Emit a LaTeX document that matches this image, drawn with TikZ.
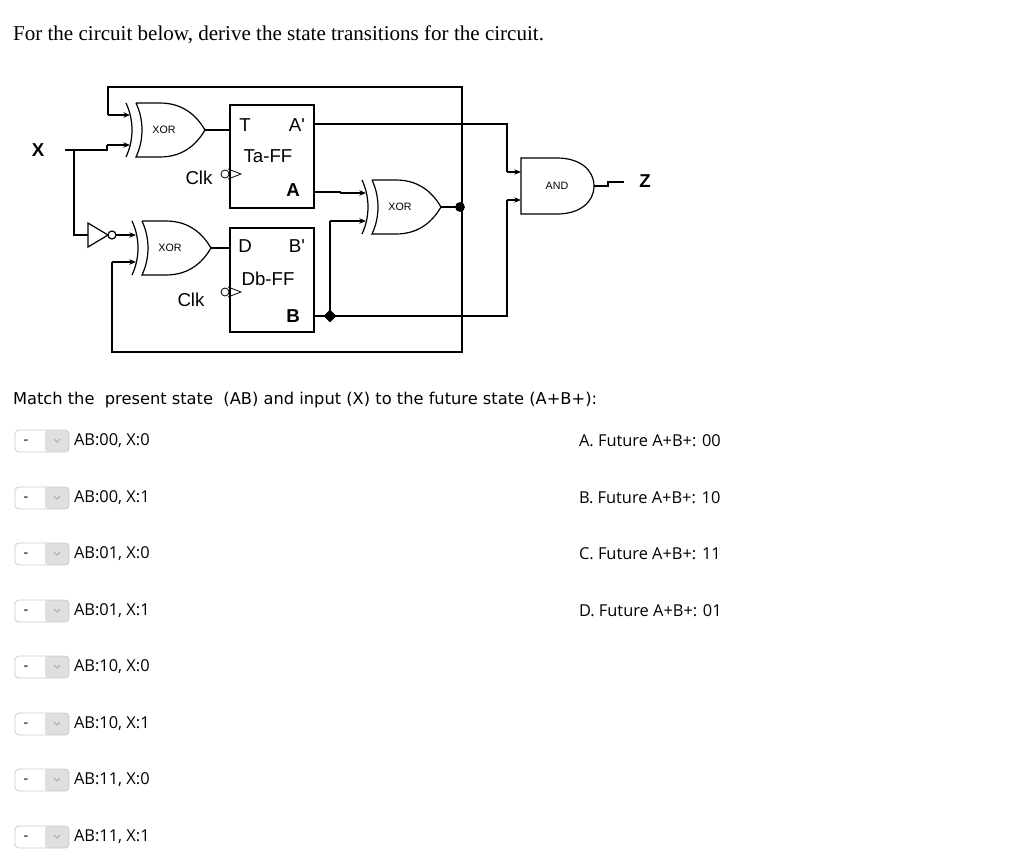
\documentclass[tikz,border=0pt]{standalone}
\usepackage{fontspec}
\setmainfont{Liberation Serif}
\newfontfamily\ar{Liberation Sans}
\newfontfamily\dv{DejaVu Sans}
\newfontfamily\ui{Open Sans}
\usetikzlibrary{arrows.meta,shapes.geometric}
\begin{document}
\begin{tikzpicture}[x=0.75pt,y=-0.75pt,line width=0.9pt,
  inp/.style={-{Stealth[length=5pt,width=4pt]}},
  gl/.style={font=\ar\fontsize{8}{9}\selectfont},
  lab/.style={font=\ar\fontsize{14}{16}\selectfont},
  opt/.style={font=\ui\fontsize{12.3}{14}\selectfont,anchor=west},
  dot/.style={circle,fill,inner sep=2.6pt}]
\useasboundingbox (0,0) rectangle (1024,858);
\fill[white] (0,0) rectangle (1024,858);
\node[anchor=west,font=\fontsize{15.8}{18}\selectfont] (title) at (8,35) {For the circuit below, derive the state transitions for the circuit.};
\newcommand{\xorg}[3]{% name,x,y
 \begin{scope}[shift={(#2,#3)}]
 \draw (6,-27) -- (30,-27) .. controls (55,-27) and (68,-12) .. (75,0) .. controls (68,12) and (55,27) .. (30,27) -- (6,27) .. controls (14,10) and (14,-10) .. (6,-27);
 \draw (-4,-27) .. controls (4,-10) and (4,10) .. (-4,27);
 \node[gl] (#1) at (34,0) {XOR};
 \end{scope}}
\xorg{x1}{130}{130}
\xorg{x2}{136}{248}
\xorg{x3}{366}{207}
\draw (521,158) -- (557,158) .. controls (580,158) and (594,170) .. (594,186) .. controls (594,202) and (580,214) .. (557,214) -- (521,214) -- cycle;
\node[gl] (and) at (557,186) {AND};
\draw (230,105) rectangle (314,208);
\draw (230,228) rectangle (314,332);
\node[lab] (T) at (245,125) {T};
\node[lab] (Ap) at (297,125) {A'};
\node[lab] (TF) at (268,156) {Ta-FF};
\node[lab,font=\ar\bfseries\fontsize{14}{16}\selectfont] (A) at (293,190) {A};
\node[lab] (D) at (245,246) {D};
\node[lab] (Bp) at (297,246) {B'};
\node[lab] (DF) at (268,279) {Db-FF};
\node[lab,font=\ar\bfseries\fontsize{14}{16}\selectfont] (B) at (293,316) {B};
\node[lab] (c1) at (199,178) {Clk};
\node[lab] (c2) at (191,300) {Clk};
\draw[line width=0.6pt] (228,169) -- (241,174) -- (228,179);
\draw[line width=0.6pt] (225,174) circle (4);
\draw[line width=0.6pt] (228,287) -- (241,292) -- (228,297);
\draw[line width=0.6pt] (225,292) circle (4);
\node[lab,font=\ar\bfseries\fontsize{14}{16}\selectfont] (X) at (38,150) {X};
\node[lab,font=\ar\bfseries\fontsize{14}{16}\selectfont] (Z) at (645,181) {Z};
\draw (88,223) -- (108,235) -- (88,247) -- cycle;
\draw (112,235) circle (4);
\coordinate (j1) at (74,150);
\draw (65,150) -- (j1) -- (107,150) -- (107,145);
\draw[inp] (107,145) -- (130,145);
\draw (j1) -- (74,235) -- (88,235);
\draw[inp] (116,235) -- (136,235);
\draw (108,115) -- (108,87) -- (462,87) -- (462,352) -- (112,352) -- (112,262);
\draw[inp] (108,115) -- (130,115);
\draw[inp] (112,262) -- (136,262);
\draw (205,130) -- (230,130);
\draw (211,248) -- (230,248);
\draw (314,192) -- (340,192) -- (340,193);
\draw[inp] (340,193) -- (366,193);
\coordinate (dB) at (330,316);
\draw (314,316) -- (507,316) -- (507,200);
\draw[inp] (507,200) -- (521,200);
\draw (dB) -- (330,221);
\draw[inp] (330,221) -- (366,221);
\node[diamond,fill,inner sep=2.5pt] (dbd) at (dB) {};
\draw (314,124) -- (507,124) -- (507,172);
\draw[inp] (507,172) -- (521,172);
\draw (441,207) -- (462,207);
\node[dot] (d3) at (460,207) {};
\draw (594,186) -- (608,186) -- (608,182) -- (624,182);
\node[anchor=west,font=\dv\fontsize{12.2}{14}\selectfont] (q) at (8,400) {Match the\ \ present state\ \ (AB) and input (X) to the future state (A+B+):};
\foreach \y/\t [count=\i] in {441/{AB:00, X:0},498/{AB:00, X:1},554/{AB:01, X:0},611/{AB:01, X:1},667/{AB:10, X:0},724/{AB:10, X:1},780/{AB:11, X:0},837/{AB:11, X:1}}{
  \fill[gray!25,rounded corners=2pt] (45,\y-11) rectangle (69,\y+11);
  \draw[gray!40,line width=0.6pt,rounded corners=3pt] (15,\y-11) rectangle (69,\y+11);
  \draw[gray!70,line width=0.6pt] (54,\y-2) -- (57,\y+1) -- (60,\y-2);
  \node[font=\ui\fontsize{11}{13}\selectfont] (m\i) at (26,\y+1) {-};
  \node[opt] (o\i) at (69,\y) {\t};
}
\node[opt] (ra) at (574,441) {A. Future A+B+: 00};
\node[opt] (rb) at (574,498) {B. Future A+B+: 10};
\node[opt] (rc) at (574,554) {C. Future A+B+: 11};
\node[opt] (rd) at (574,611) {D. Future A+B+: 01};
\end{tikzpicture}
\end{document}
